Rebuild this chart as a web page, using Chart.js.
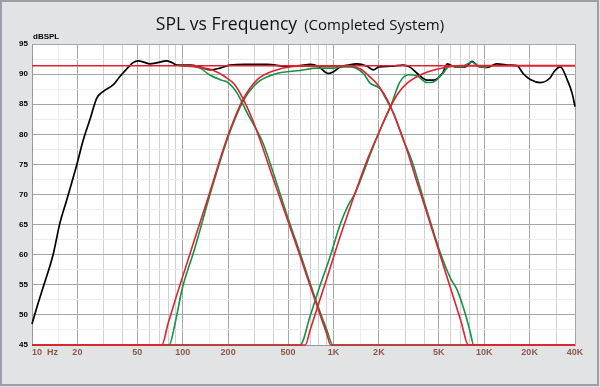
<!DOCTYPE html>
<html>
<head>
<meta charset="utf-8">
<script src="https://cdn.jsdelivr.net/npm/chart.js@4.4.1/dist/chart.umd.min.js"></script>
<style>
  html, body { margin: 0; padding: 0; background: #e2e3e5; }
  #wrap { width: 600px; height: 387px; }
</style>
</head>
<body>
<div id="wrap"><canvas id="spl"></canvas></div>
<script>
// --- data (Hz / dBSPL) ---
const sysFreq = [10, 11, 12, 13.8, 15.3, 17, 19.8, 21.9, 24.2, 26.9, 29.6, 34.5, 38.3, 43, 46.8, 50.5, 55, 60.6, 68, 78, 85, 91.6, 112, 130, 152, 177, 206, 260, 362, 490, 600, 700, 800, 920, 1000, 1110, 1250, 1430, 1670, 1840, 2000, 2400, 2900, 3200, 3600, 4170, 4600, 5270, 5700, 6400, 7500, 8300, 9100, 10400, 12100, 14900, 16500, 18100, 20200, 23500, 27400, 29000, 32000, 35600, 38300, 40000];
const sysSpl  = [48.5, 52, 55, 60, 65.2, 69.1, 74.9, 79.1, 82.4, 86, 87.1, 88.2, 89.6, 91, 91.9, 92.2, 92.0, 91.7, 91.9, 92.2, 91.9, 91.5, 91.5, 91.2, 90.7, 91.0, 91.5, 91.6, 91.6, 91.3, 91.4, 91.6, 91.2, 90.1, 90.4, 91.2, 91.5, 91.7, 91.3, 90.7, 91.2, 91.3, 91.5, 91.2, 90.1, 89.0, 89.0, 90.1, 91.7, 91.2, 91.2, 92.1, 91.3, 91.1, 91.7, 91.5, 91.4, 90.1, 89.1, 88.6, 89.4, 90.4, 91.2, 89.0, 86.8, 84.6];

const targetFreq = [10, 40000];
const targetSpl  = [91.4, 91.4];

// woofer
const wooferTgtFreq = [95, 130, 160, 190, 220, 250, 300, 400, 500, 600, 700, 800, 900, 960, 40000];
const wooferTgtSpl  = [91.4, 91.1, 90.6, 89.6, 88.3, 86.0, 81.5, 72.5, 65.5, 59.8, 54.8, 50.6, 46.9, 45, 45];
const wooferMeasFreq = [95, 130, 152, 180, 200, 230, 268, 340, 400, 500, 600, 700, 800, 900, 990, 40000];
const wooferMeasSpl  = [91.5, 91.0, 89.8, 89.0, 88.6, 86.8, 83.5, 78.6, 73.5, 66.0, 60.3, 55.2, 51.0, 47.6, 45, 45];

// midrange
const midTgtFreq = [10, 72.6, 80, 91, 100, 120, 150, 185, 210, 250, 310, 420, 600, 900, 1300, 1500, 1700, 2000, 2300, 2600, 3000, 3500, 4000, 5000, 6000, 7000, 7850, 40000];
const midTgtSpl  = [45, 45, 48.6, 53.2, 56.4, 62.6, 70.1, 77.4, 81.3, 85.7, 89.0, 90.7, 91.3, 91.3, 91.3, 90.9, 89.8, 88.0, 85.5, 82.4, 78.2, 72.8, 68.3, 60.6, 54.3, 49.0, 45, 45];
const midMeasFreq = [10, 81, 90, 98.6, 120, 150, 187, 210, 250, 310, 420, 600, 780, 1000, 1110, 1300, 1400, 1580, 1750, 2030, 2250, 2500, 2900, 3300, 4000, 5000, 5500, 6000, 6600, 7100, 7600, 8100, 8500, 40000];
const midMeasSpl  = [45, 45, 49.2, 54.1, 61.0, 69.6, 77.4, 81.0, 85.4, 88.5, 90.1, 90.6, 91.0, 91.0, 91.2, 91.2, 91.0, 90.1, 88.5, 87.6, 85.7, 83.5, 79.1, 75.7, 68.8, 61.0, 58.2, 56.0, 54.2, 52.0, 49.6, 47.0, 45, 45];

// tweeter
const twTgtFreq = [10, 650, 700, 800, 950, 1100, 1390, 1670, 2000, 2390, 2700, 3080, 3960, 5300, 7000, 40000];
const twTgtSpl  = [45, 45, 47.5, 52.0, 57.8, 62.8, 70.2, 75.7, 80.3, 84.6, 86.9, 88.5, 90.1, 91.0, 91.4, 91.4];
const twMeasFreq = [10, 600, 700, 800, 950, 1110, 1250, 1390, 1800, 2100, 2390, 2760, 3140, 3600, 4170, 4600, 5300, 5900, 7000, 8300, 9100, 10400];
const twMeasSpl  = [45, 45, 49.8, 54.3, 59.7, 65.1, 68.2, 70.2, 77.4, 81.5, 84.6, 88.7, 89.9, 89.7, 88.6, 88.7, 90.1, 91.3, 91.2, 92.0, 91.3, 91.1];

// axis ticks
const gridMult = [1, 1.5, 2, 3, 4, 5, 6, 7, 8, 9];
const gridDecades = [10, 100, 1000, 10000];
const xLabelFreqs = [10, 20, 50, 100, 200, 500, 1000, 2000, 5000, 10000, 20000, 40000];
const xLabelText  = ['10  Hz', '20', '50', '100', '200', '500', '1K', '2K', '5K', '10K', '20K', '40K'];

const RED = '#e3202f';
const GREEN = '#0f9445';

const pts = (fs, vs) => fs.map((f, i) => ({ x: f, y: vs[i] }));

const gridFreqs = [];
gridDecades.forEach(d => gridMult.forEach(m => { if (d * m <= 40000) gridFreqs.push(d * m); }));
gridFreqs.push(40000);

function mantissa(v) {
  return Math.round(v / Math.pow(10, Math.floor(Math.log10(v) + 1e-9)) * 10) / 10;
}

const line = (label, data, color, width) => ({
  label, data, borderColor: color, borderWidth: width,
  pointRadius: 0, showLine: true, fill: false,
  cubicInterpolationMode: 'monotone', clip: 3
});

const framePlugin = {
  id: 'frame',
  beforeDraw(chart) {
    const c = chart.ctx, a = chart.chartArea;
    c.save();
    c.fillStyle = '#e2e3e5';
    c.fillRect(0, 0, chart.width, chart.height);
    c.strokeStyle = '#9a9fa8';
    c.lineWidth = 2;
    c.strokeRect(1, 1, chart.width - 3, chart.height - 3);
    c.fillStyle = '#ffffff';
    c.fillRect(a.left, a.top, a.right - a.left, a.bottom - a.top);
    c.restore();
  },
  afterDraw(chart) {
    const c = chart.ctx, a = chart.chartArea, xs = chart.scales.x;
    c.save();
    // title, two sizes
    const t1 = 'SPL vs Frequency', t2 = '(Completed System)';
    c.textBaseline = 'alphabetic';
    c.fillStyle = '#111';
    c.font = '17.6px "Open Sans"';
    const w1 = c.measureText(t1).width;
    c.font = '15px "Open Sans"';
    const w2 = c.measureText(t2).width;
    let x0 = 300 - (w1 + 7 + w2) / 2;
    c.font = '17.6px "Open Sans"';
    c.fillText(t1, x0, 30);
    c.font = '15px "Open Sans"';
    c.fillText(t2, x0 + w1 + 7, 30);
    // unit
    c.font = 'bold 8px "Liberation Sans"';
    c.fillStyle = '#000';
    c.textAlign = 'left';
    c.fillText('dBSPL', a.left + 1, a.top - 5);
    // x labels
    c.font = 'bold 9px "Liberation Sans"';
    c.fillStyle = '#8a5a48';
    c.textBaseline = 'top';
    xLabelFreqs.forEach((f, i) => {
      const px = xs.getPixelForValue(f);
      c.textAlign = i === 0 ? 'left' : 'center';
      c.fillText(xLabelText[i], px, a.bottom + 3);
    });
    c.restore();
  }
};

new Chart(document.getElementById('spl'), {
  type: 'scatter',
  data: {
    datasets: [
      line('Target', pts(targetFreq, targetSpl), RED, 1.5),
      line('Woofer target', pts(wooferTgtFreq, wooferTgtSpl), RED, 1.6),
      line('Mid target', pts(midTgtFreq, midTgtSpl), RED, 1.6),
      line('Tweeter target', pts(twTgtFreq, twTgtSpl), RED, 1.6),
      line('Woofer', pts(wooferMeasFreq, wooferMeasSpl), GREEN, 1.6),
      line('Mid', pts(midMeasFreq, midMeasSpl), GREEN, 1.6),
      line('Tweeter', pts(twMeasFreq, twMeasSpl), GREEN, 1.6),
      line('System', pts(sysFreq, sysSpl), '#000000', 1.7)
    ]
  },
  options: {
    responsive: true,
    maintainAspectRatio: false,
    animation: false,
    events: [],
    layout: { padding: { top: 44, right: 25, left: 0, bottom: 0 } },
    plugins: { legend: { display: false }, tooltip: { enabled: false }, title: { display: false } },
    scales: {
      x: {
        type: 'logarithmic',
        min: 10, max: 40000,
        afterBuildTicks: s => { s.ticks = gridFreqs.map(v => ({ value: v })); },
        afterFit: s => { s.height = 42; },
        ticks: { display: false, autoSkip: false },
        border: { display: true, color: '#999' },
        grid: {
          drawTicks: false,
          lineWidth: 1,
          color: ctx => {
            const v = ctx.tick && ctx.tick.value;
            if (!v) return '#cfcfcf';
            const m = mantissa(v);
            if (m === 1 || m === 2 || m === 5 || m === 4 && v === 40000) return '#a6a6a6';
            if (m === 1.5) return '#eeeeee';
            return '#d0d0d0';
          }
        }
      },
      y: {
        min: 45, max: 95,
        afterFit: s => { s.width = 32; },
        ticks: {
          stepSize: 2.5,
          padding: 4,
          color: '#000',
          font: { family: 'Liberation Sans', size: 8, weight: 'bold' },
          callback: v => (v % 5 === 0 ? v : '')
        },
        border: { display: true, color: '#999' },
        grid: {
          drawTicks: false,
          color: ctx => (ctx.tick && ctx.tick.value % 5 === 0 ? '#a6a6a6' : '#ececec')
        }
      }
    }
  },
  plugins: [framePlugin]
});
</script>
</body>
</html>
